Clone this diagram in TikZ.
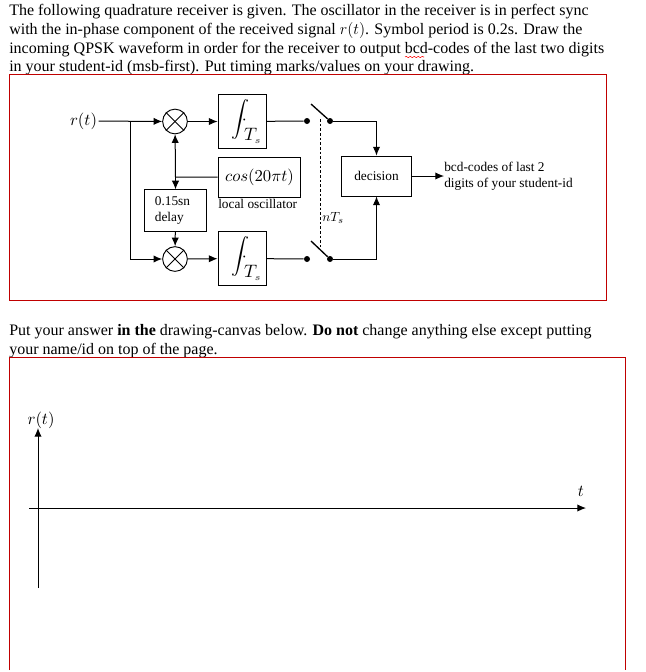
\documentclass[tikz,border=0pt]{standalone}
\usepackage{amsmath,amssymb}
\usepackage{graphicx}
\usepackage{fontspec}
\setmainfont{Liberation Serif}
\usetikzlibrary{arrows.meta,positioning,calc,decorations.pathmorphing}
\definecolor{framered}{RGB}{192,0,0}
\tikzset{
  txt/.style={anchor=base west,inner sep=0pt,font=\fontsize{12}{12}\selectfont},
  small/.style={inner sep=0pt,font=\fontsize{10}{10}\selectfont},
  blk/.style={draw,inner sep=0pt,line width=0.7pt},
  mix/.style={draw,circle,inner sep=0pt,minimum size=18.5pt,line width=0.7pt},
  pin/.style={circle,fill,inner sep=0pt,minimum size=4.5pt},
  sig/.style={arrows=-{Latex[length=6.5pt,width=5.5pt]},line width=0.75pt},
  wire/.style={line width=0.75pt},
  canvas/.style={draw=framered,line width=0.7pt}
}
\newcommand{\bigmath}[1]{\scalebox{1.25}{#1}}
\newcommand{\intbox}{\scalebox{1.35}{$\displaystyle\int_{\rlap{$\mkern3mu T_{\scriptscriptstyle s}$}}\mkern-3mu\cdot\mkern6mu$}}
\begin{document}
\begin{tikzpicture}[x=0.75pt,y=-0.75pt]
  \useasboundingbox (0,0) rectangle (646,672);
  % question text
  \node[txt] (q1) at (9,15) {The following quadrature receiver is given. The oscillator in the receiver is in perfect sync};
  \node[txt] (q2) at (9,34) {with the in-phase component of the received signal $r(t)$. Symbol period is 0.2s. Draw the};
  \node[txt] (q3) at (9,53) {incoming QPSK waveform in order for the receiver to output bcd-codes of the last two digits};
  \node[txt] (q4) at (9,71) {in your student-id (msb-first). Put timing marks/values on your drawing.};
  \draw[red,decorate,decoration={snake,amplitude=0.5pt,segment length=3pt}] (405,57) -- (424,57);
  % receiver
  \draw[canvas] (9.5,74.5) rectangle (606.5,300.5);
  \node[inner sep=1pt] (rt) at (83.5,121) {\bigmath{$r(t)$}};
  \node[mix] (m1) at (175,121.5) {};
  \node[mix] (m2) at (175,259) {};
  \foreach \m in {m1,m2} {
    \draw[wire] (\m.north west) -- (\m.south east);
    \draw[wire] (\m.north east) -- (\m.south west);
  }
  \node[blk,minimum width=36pt,minimum height=41pt] (i1) at (242,121.5) {\intbox};
  \node[blk,minimum width=36pt,minimum height=41pt] (i2) at (242,258.5) {\intbox};
  \node[blk,minimum width=62pt,minimum height=30pt] (osc) at (259.5,177) {\bigmath{$cos(20\pi t)$}\hspace{4pt}};
  \node[small,anchor=north west] (osclab) at (218,198.5) {local oscillator};
  \node[blk,small,inner xsep=8pt,text width=31pt,minimum height=31pt,align=left] (del) at (175.5,210.5) {0.15sn\\[1.5pt]delay};
  \node[blk,small,minimum width=53pt,minimum height=30pt] (dec) at (376.5,176) {decision};
  \node[small,anchor=west,align=left] (out) at (444,176) {bcd-codes of last 2\\[2pt]digits of your student-id};
  \node[pin] (a1) at (307,121) {};
  \node[pin] (b1) at (330,121) {};
  \node[pin] (a2) at (307,259) {};
  \node[pin] (b2) at (330,259) {};
  \coordinate (s1) at (311,104);
  \coordinate (s2) at (311,241);
  \coordinate (br) at (130.5,121.5);
  \draw[line width=1pt] (s1) -- (b1);
  \draw[line width=1pt] (s2) -- (b2);
  \node[inner sep=0pt] (nts) at (333,218) {\fontsize{10}{10}\selectfont$nT_s$};
  \draw[line width=0.5pt,dash pattern=on 2pt off 1.5pt] (320.5,119) -- (320.5,247);
  \draw[sig] (rt) -- (m1);
  \draw[sig] (br) |- (m2);
  \draw[sig] (m1) -- (i1);
  \draw[sig] (m2) -- (i2);
  \draw[wire] (i1) -- (a1);
  \draw[wire] (i2) -- (a2);
  \coordinate (j) at (175.5,177);
  \draw[sig] (osc.west |- j) -- (j) -- (m1);
  \draw[sig] (j) -- (del);
  \draw[sig] (del) -- (m2);
  \draw[sig] (b1) -| (dec);
  \draw[sig] (b2) -| (dec);
  \draw[sig] (dec) -- (out);
  % answer part
  \node[txt] (a1txt) at (9,335) {Put your answer \textbf{in the} drawing-canvas below. \textbf{Do not} change anything else except putting};
  \node[txt] (a2txt) at (9,354) {your name/id on top of the page.};
  \draw[canvas] (9.5,670) -- (9.5,357.5) -- (625.5,357.5) -- (625.5,670);
  \coordinate (ytop) at (38,428);
  \coordinate (ybot) at (38,588);
  \coordinate (xl) at (29,508);
  \coordinate (xr) at (586,508);
  \draw[sig] (ybot) -- (ytop);
  \draw[sig] (xl) -- (xr);
  \node (rlab) at (41,420) {\bigmath{$r(t)$}};
  \node (tlab) at (581,491) {\bigmath{$t$}};
\end{tikzpicture}
\end{document}
